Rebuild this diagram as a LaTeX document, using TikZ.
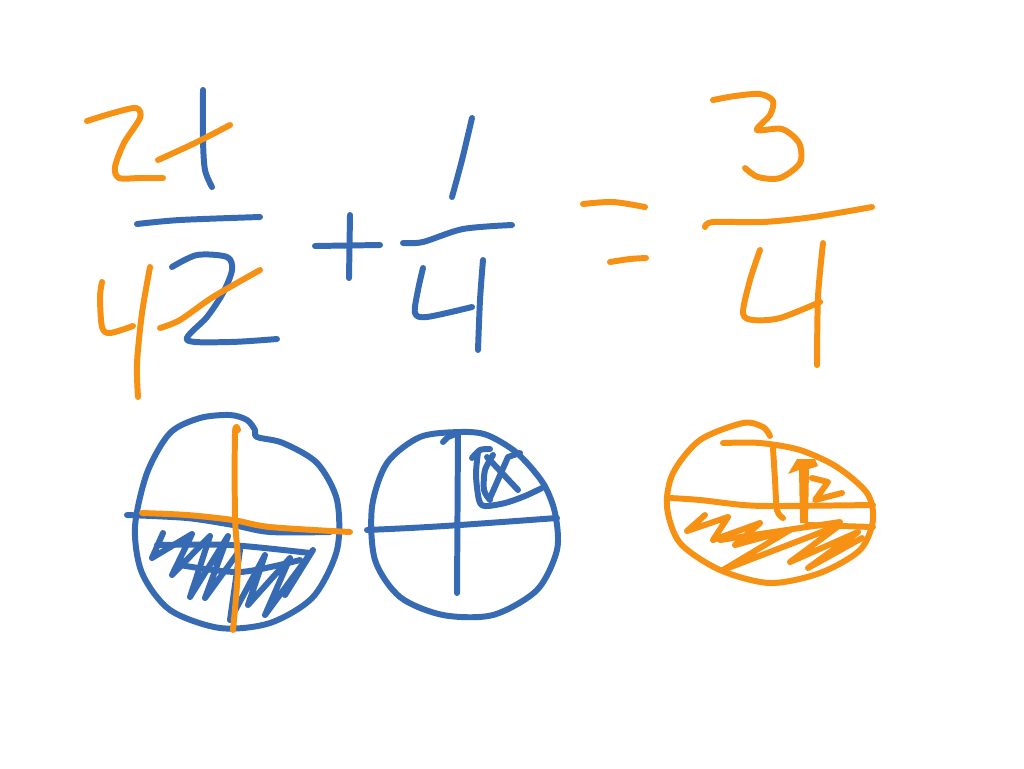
\documentclass[tikz,border=0pt]{standalone}
\usepackage{tikz}
\definecolor{penblue}{RGB}{54,106,178}
\definecolor{penorange}{RGB}{247,145,20}

\begin{document}
\begin{tikzpicture}[x=0.02cm,y=0.02cm]
\tikzstyle{every path}+=[line width=3.4pt, line cap=round, line join=round]
\fill [white] (0,0) rectangle (1024,-768);
\useasboundingbox (0,0) rectangle (1024,-768);
% first fraction, 1/2 written over 2/4
\draw [penorange] plot [smooth] coordinates {(87,-121) (113,-113) (136,-108) (140,-118) (124,-143) (115,-167) (119,-178) (140,-178) (163,-178)};
\draw [penblue] plot [smooth] coordinates {(203,-90) (203,-140) (205,-170) (212,-187)};
\draw [penorange] plot [smooth] coordinates {(158,-160) (195,-143) (230,-125)};
\draw [penblue] plot [smooth] coordinates {(137,-224) (180,-220) (260,-217)};
\draw [penblue] plot [smooth] coordinates {(172,-267) (197,-255) (227,-257) (232,-270) (223,-293) (207,-317) (187,-340) (230,-342) (277,-339)};
\draw [penorange] plot [smooth] coordinates {(102,-282) (100,-297) (102,-327) (110,-333) (133,-326)};
\draw [penorange] plot [smooth] coordinates {(150,-267) (142,-313) (137,-363) (138,-397)};
\draw [penorange] plot [smooth] coordinates {(160,-328) (180,-320) (213,-297) (260,-270)};
% plus sign
\draw [penblue] (315,-246) -- (380,-245);
\draw [penblue] (350,-215) -- (349,-278);
% second fraction 1/4
\draw [penblue] plot [smooth] coordinates {(472,-118) (462,-160) (452,-197)};
\draw [penblue] plot [smooth] coordinates {(403,-243) (423,-242) (463,-229) (512,-225)};
\draw [penblue] plot [smooth] coordinates {(423,-268) (418,-290) (415,-313) (427,-317) (472,-307)};
\draw [penblue] plot [smooth] coordinates {(483,-260) (480,-300) (478,-350)};
% equals sign
\draw [penorange] plot [smooth] coordinates {(583,-204) (613,-202) (645,-207)};
\draw [penorange] plot [smooth] coordinates {(610,-262) (630,-259) (646,-258)};
% result 3/4
\draw [penorange] plot [smooth] coordinates {(713,-100) (735,-96) (760,-94) (773,-101) (770,-115) (757,-130) (782,-129) (799,-143) (800,-163) (780,-178) (758,-177) (745,-168)};
\draw [penorange] plot [smooth] coordinates {(705,-227) (713,-222) (763,-222) (813,-217) (872,-207)};
\draw [penorange] plot [smooth] coordinates {(760,-250) (750,-280) (743,-313) (753,-320) (780,-318) (820,-302)};
\draw [penorange] plot [smooth] coordinates {(823,-243) (818,-297) (817,-365)};
% circle for 2/4
\draw [penblue] plot [smooth cycle] coordinates {(200,-418) (230,-415) (247,-420) (255,-430) (257,-437) (283,-443) (317,-463) (337,-500) (337,-550) (313,-597) (270,-623) (220,-628) (170,-610) (142,-573) (135,-527) (147,-473) (170,-433)};
\draw [penblue] plot [smooth] coordinates {(127,-515) (187,-518) (233,-525) (270,-532) (330,-532)};
\draw [penblue] (160,-540) -- (163,-533) -- (152,-558) -- (192,-534) -- (172,-575) -- (210,-536) -- (190,-597) -- (228,-536) -- (205,-598) -- (240,-550) -- (230,-620) -- (265,-555) -- (248,-605) -- (290,-558) -- (265,-615) -- (313,-550) -- (285,-595);
\draw [penblue] plot [smooth] coordinates {(157,-545) (230,-545) (310,-553)};
\draw [penblue] plot [smooth] coordinates {(180,-565) (240,-572) (300,-560)};
\draw [penorange] plot [smooth] coordinates {(142,-513) (187,-515) (233,-520) (270,-527) (350,-532)};
\draw [penorange] plot [smooth] coordinates {(238,-430) (235,-433) (235,-517) (238,-567) (233,-630)};
% circle for 1/4
\draw [penblue] plot [smooth cycle] coordinates {(460,-432) (487,-435) (517,-453) (543,-483) (555,-513) (557,-550) (537,-590) (493,-615) (443,-615) (400,-597) (375,-560) (372,-507) (387,-463) (420,-437)};
\draw [penblue] (443,-442) -- (448,-437) -- (458,-433) -- (457,-593);
\draw [penblue] plot [smooth] coordinates {(367,-530) (410,-528) (460,-525) (557,-518)};
\draw [penblue] plot [smooth] coordinates {(478,-452) (476,-475) (479,-500) (485,-506) (505,-503) (525,-496) (542,-488)};
\draw [penblue] plot [smooth] coordinates {(472,-458) (480,-450) (490,-449)};
\draw [penblue] plot [smooth] coordinates {(493,-455) (485,-470) (484,-490) (490,-500)};
\draw [penblue] (487,-457) -- (518,-490);
\draw [penblue] (490,-498) -- (508,-457) -- (520,-453);
% circle for 3/4
\draw [penorange] plot [smooth] coordinates {(770,-436) (763,-427) (743,-423) (700,-440) (673,-473) (667,-507) (680,-543) (720,-570) (770,-583) (820,-573) (860,-550) (873,-520) (867,-493) (837,-467) (800,-450) (760,-443) (723,-443)};
\draw [penorange] plot [smooth] coordinates {(773,-448) (775,-480) (777,-510) (783,-518)};
\draw [penorange] plot [smooth] coordinates {(670,-498) (700,-500) (743,-505) (777,-506) (873,-505)};
\draw [penorange] (807,-525) -- (873,-527);
\fill [penorange] (788,-474) -- (797,-459) -- (815,-459) -- (818,-466) -- (809,-469) -- (808,-523) -- (800,-523) -- (799,-470) -- cycle;
\draw [penorange] (812,-478) -- (828,-482) -- (815,-500) -- (842,-493);
\draw [penorange] (705,-515) -- (687,-531) -- (728,-517) -- (713,-540) -- (760,-523) -- (735,-545) -- (790,-530) -- (723,-570) -- (840,-525) -- (790,-562) -- (858,-532) -- (808,-568) -- (862,-538);
\draw [penorange] (720,-540) -- (840,-522);
\end{tikzpicture}
\end{document}
